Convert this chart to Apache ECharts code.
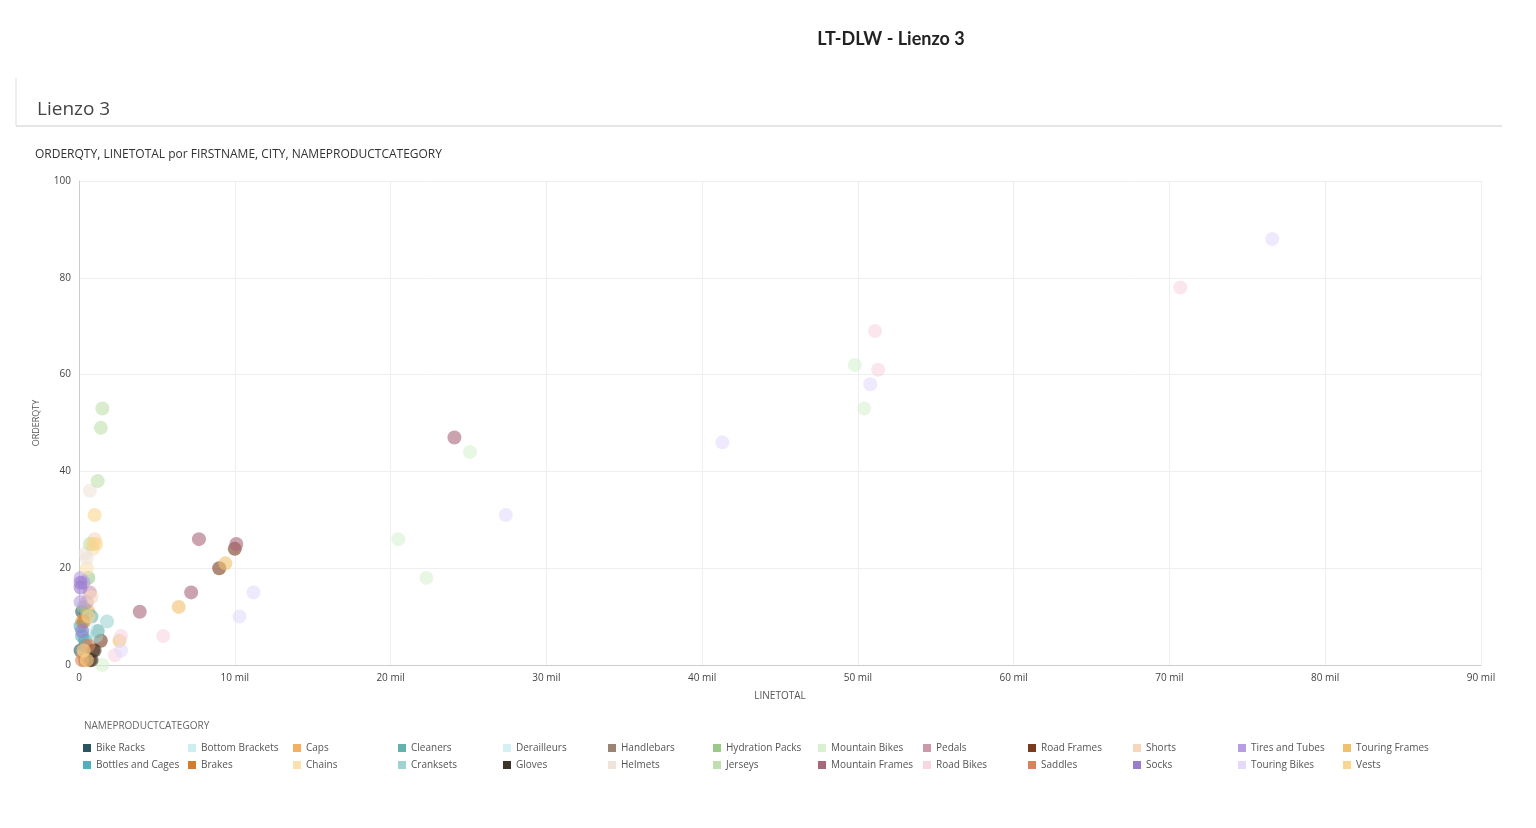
<!DOCTYPE html><html><head><meta charset="utf-8">
<script src="https://cdn.jsdelivr.net/npm/echarts@6/dist/echarts.min.js"></script>
<style>html,body{margin:0;background:#fff}#c{width:1536px;height:828px}</style></head><body><div id="c"></div>
<script>
const categories=["Bike Racks","Bottom Brackets","Caps","Cleaners","Derailleurs","Handlebars","Hydration Packs","Mountain Bikes","Pedals","Road Frames","Shorts","Tires and Tubes","Touring Frames",
"Bottles and Cages","Brakes","Chains","Cranksets","Gloves","Helmets","Jerseys","Mountain Frames","Road Bikes","Saddles","Socks","Touring Bikes","Vests"];
const colors={"Bike Racks":"#2c5560","Bottom Brackets":"#cdeff3","Caps":"#f3b062","Cleaners":"#62b3ad","Derailleurs":"#d3f1f4","Handlebars":"#9a8473","Hydration Packs":"#9cc98a","Mountain Bikes":"#d9f1d1","Pedals":"#cb9aa8","Road Frames":"#7a3a1e","Shorts":"#f8d6be","Tires and Tubes":"#b79ee0","Touring Frames":"#f0c06a",
"Bottles and Cages":"#55aebb","Brakes":"#d27d2c","Chains":"#fbe1b0","Cranksets":"#9dd3d0","Gloves":"#3e3328","Helmets":"#efe3da","Jerseys":"#bfdfae","Mountain Frames":"#a8667a","Road Bikes":"#f6d6e0","Saddles":"#d5835a","Socks":"#9a7ccf","Touring Bikes":"#e5dafb","Vests":"#fad58e"};
// [LINETOTAL (mil), ORDERQTY]
const values={
"Bike Racks":[[0.2,11],[0.1,3]],
"Bottom Brackets":[[0.3,6]],
"Caps":[[0.3,2],[0.6,11],[0.2,9]],
"Cleaners":[[0.8,10],[1.2,7],[0.4,5]],
"Derailleurs":[[0.5,8]],
"Handlebars":[[0.4,4]],
"Hydration Packs":[[0.6,18],[0.3,12]],
"Mountain Bikes":[[49.8,62],[50.4,53],[25.1,44],[20.5,26],[22.3,18],[1.5,0]],
"Pedals":[[0.7,15],[0.5,13]],
"Road Frames":[[10.0,24],[9.0,20],[1.4,5],[0.9,3],[0.7,1]],
"Shorts":[[1.0,26],[0.8,14]],
"Tires and Tubes":[[0.1,18],[0.1,13],[0.3,17]],
"Touring Frames":[[9.4,21],[6.4,12],[2.6,5]],
"Bottles and Cages":[[0.1,8],[0.2,6]],
"Brakes":[[0.4,1],[0.3,9]],
"Chains":[[0.9,24],[0.5,20]],
"Cranksets":[[1.8,9],[1.1,6]],
"Gloves":[[1.0,3],[0.8,1]],
"Helmets":[[0.7,36],[0.5,22],[0.4,23]],
"Jerseys":[[1.5,53],[1.4,49],[1.2,38],[0.7,25]],
"Mountain Frames":[[24.1,47],[7.7,26],[10.1,25],[7.2,15],[3.9,11]],
"Road Bikes":[[70.7,78],[51.1,69],[51.3,61],[5.4,6],[2.3,2],[2.7,6]],
"Saddles":[[0.6,4],[0.2,1]],
"Socks":[[0.1,16],[0.2,7],[0.1,17]],
"Touring Bikes":[[76.6,88],[41.3,46],[27.4,31],[50.8,58],[11.2,15],[10.3,10],[2.7,3]],
"Vests":[[1.0,31],[0.9,25],[0.6,10],[0.3,3],[0.5,1],[1.1,25]]
};
const xTicks=[0,10,20,30,40,50,60,70,80,90];
const c=echarts.init(document.getElementById('c'));
const font='"Open Sans","Lato",sans-serif';
const legends=categories.map((n,i)=>({left:78+(i%13)*105,top:i<13?738:755,data:[n],
itemWidth:8,itemHeight:8,icon:'rect',padding:5,itemStyle:{opacity:1},
textStyle:{fontSize:10,color:'#555',fontFamily:font}}));
c.setOption({
animation:false,
title:[{text:'LT-DLW - Lienzo 3',left:886,top:25,textAlign:'center',textStyle:{fontSize:18,fontWeight:'bold',color:'#222',fontFamily:'Lato'}},
{text:'Lienzo 3',left:32,top:95,textStyle:{fontSize:19,fontWeight:'normal',color:'#444',fontFamily:font}},
{text:'ORDERQTY, LINETOTAL por FIRSTNAME, CITY, NAMEPRODUCTCATEGORY',left:30,top:144,textStyle:{fontSize:12,fontWeight:'normal',color:'#333',fontFamily:font}},
{text:'NAMEPRODUCTCATEGORY',left:79,top:716,textStyle:{fontSize:10,fontWeight:'normal',color:'#666',fontFamily:font}}],
graphic:[{type:'line',shape:{x1:16,y1:78,x2:16,y2:126},style:{stroke:'#ddd'}},
{type:'line',shape:{x1:16,y1:126,x2:1502,y2:126},style:{stroke:'#ccc'}}],
legend:legends,
grid:{left:79,right:55,top:181,bottom:163},
xAxis:{type:'value',min:0,max:90,interval:10,name:'LINETOTAL',nameLocation:'middle',nameGap:26,
nameTextStyle:{fontSize:10,color:'#555',fontFamily:font},
axisLine:{lineStyle:{color:'#ccc'}},axisTick:{show:false},
axisLabel:{fontSize:10,color:'#444',fontFamily:font,formatter:v=>xTicks.includes(v)?(v===0?'0':v+' mil'):''},
splitLine:{show:true,lineStyle:{color:'#eee'}}},
yAxis:{type:'value',min:0,max:100,interval:20,name:'ORDERQTY',nameLocation:'middle',nameGap:38,
nameTextStyle:{fontSize:9,color:'#555',fontFamily:font},
axisLine:{show:true,lineStyle:{color:'#ccc'}},axisTick:{show:false},
axisLabel:{fontSize:10,color:'#444',fontFamily:font},
splitLine:{lineStyle:{color:'#eee'}}},
series:categories.map(n=>({name:n,type:'scatter',symbolSize:14,data:values[n],
itemStyle:{color:colors[n],opacity:0.6}}))
});
</script></body></html>
